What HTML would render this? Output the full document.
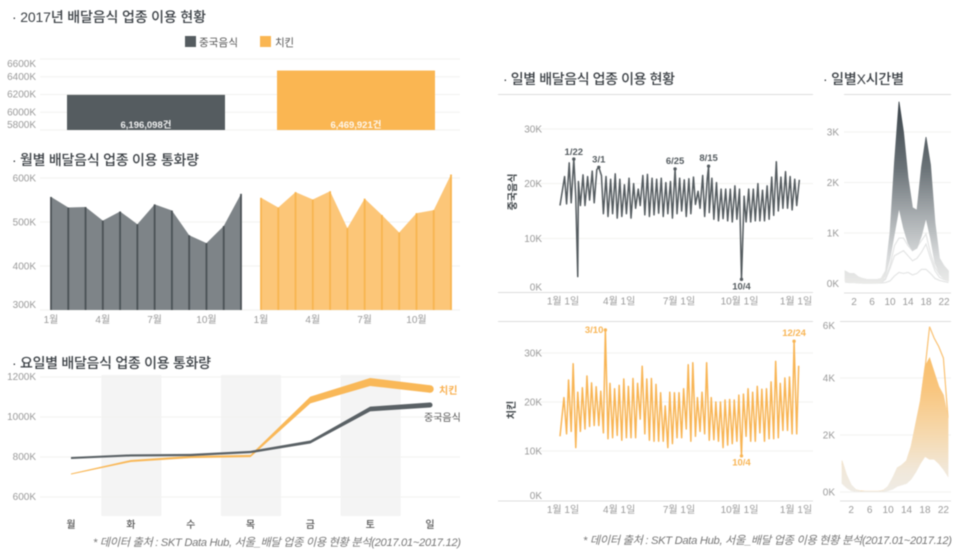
<!DOCTYPE html>
<html lang="ko">
<head>
<meta charset="utf-8">
<title>2017년 배달음식 업종 이용 현황</title>
<style>
html,body{margin:0;padding:0;background:#fff;width:966px;height:558px;overflow:hidden}
svg{display:block;filter:blur(.5px)}
text{font-family:"Liberation Sans","Noto Sans CJK KR",sans-serif}
.title{font-size:14px;font-weight:500;fill:#3b4045}
.tick{font-size:10px;fill:#9a9a9a}
.foot{font-size:11.2px;font-style:italic;fill:#777}
</style>
</head>
<body>
<svg id="chart" xmlns="http://www.w3.org/2000/svg" width="966" height="558" viewBox="0 0 966 558">
<defs>
<linearGradient id="gradDark" gradientUnits="userSpaceOnUse" x1="0" y1="105" x2="0" y2="284">
<stop offset="0" stop-color="#3d464c"/><stop offset=".35" stop-color="#6a7277"/><stop offset=".62" stop-color="#a9aeb1"/><stop offset=".85" stop-color="#d8dadb"/><stop offset="1" stop-color="#ebebe9"/>
</linearGradient>
<linearGradient id="gradOrange" gradientUnits="userSpaceOnUse" x1="0" y1="345" x2="0" y2="493">
<stop offset="0" stop-color="#f9bc63"/><stop offset=".3" stop-color="#f9c67f"/><stop offset=".6" stop-color="#f6d9ae"/><stop offset=".85" stop-color="#f1e8da"/><stop offset="1" stop-color="#efece6"/>
</linearGradient>
</defs>
<text class="title" x="12" y="22" textLength="194">· 2017년 배달음식 업종 이용 현황</text>
<text class="title" x="12" y="165" textLength="187">· 월별 배달음식 업종 이용 통화량</text>
<text class="title" x="12" y="368" textLength="199">· 요일별 배달음식 업종 이용 통화량</text>
<text class="title" x="503" y="84" textLength="172">· 일별 배달음식 업종 이용 현황</text>
<text class="title" x="823" y="84" textLength="81">· 일별X시간별</text>
<rect x="185" y="36" width="11" height="11" fill="#555c60"/>
<text x="199" y="46" font-size="10.5" fill="#555" textLength="39">중국음식</text>
<rect x="260" y="36" width="11" height="11" fill="#fab652"/>
<text x="275" y="46" font-size="10.5" fill="#555" textLength="19">치킨</text>
<line x1="498" x2="813" y1="94.5" y2="94.5" stroke="#ddd"/>
<line x1="844" x2="951" y1="94.5" y2="94.5" stroke="#ddd"/>
<line x1="498" x2="813" y1="321.5" y2="321.5" stroke="#ddd"/>
<line x1="840" x2="951" y1="321.5" y2="321.5" stroke="#ddd"/>
<text transform="translate(516,192) rotate(-90)" text-anchor="middle" font-size="10" font-weight="700" fill="#3f4549">중국음식</text>
<text transform="translate(515,410) rotate(-90)" text-anchor="middle" font-size="10" font-weight="700" fill="#3f4549">치킨</text>
<text class="foot" x="93" y="546" textLength="368">* 데이터 출처 : SKT Data Hub, 서울_배달 업종 이용 현황 분석(2017.01~2017.12)</text>
<text class="foot" x="583" y="544" textLength="369">* 데이터 출처 : SKT Data Hub, 서울_배달 업종 이용 현황 분석(2017.01~2017.12)</text>
</svg>
<script>
// ---- yearly totals ----
const yearCategories = ['중국음식', '치킨'];
const yearValues = [6196098, 6469921];
const yearTicks = [5800, 6000, 6200, 6400, 6600];
// ---- monthly ----
const monthLabels = ['1월', '', '', '4월', '', '', '7월', '', '', '10월', '', ''];
const monthChinese = [557, 533, 534, 503, 524, 495, 540, 526, 470, 452, 491, 564];
const monthChicken = [555, 533, 568, 551, 570, 486, 553, 516, 476, 520, 527, 608];
const monthTicks = [300, 400, 500, 600];
// ---- weekday ----
const weekdays = ['월', '화', '수', '목', '금', '토', '일'];
const weekdayChinese = [795, 808, 810, 825, 875, 1040, 1060];
const weekdayChicken = [715, 780, 800, 805, 1085, 1175, 1140];
const weekdayTicks = [600, 800, 1000, 1200];
// ---- daily (K calls) : weekly peak and trough readings, plus single-day spikes [day-of-year, value] ----
const dailyChinesePeaks = [21.3,23.8,24.5,20.4,21.6,21.3,22.3,22.6,21.5,21.3,20.8,21.8,20.8,19.8,21,20,19,21.5,21.7,21,20.8,21,20.2,20.4,22.7,21,20.7,20.9,21.2,18.6,21.5,21,21,20.2,19,19,19,19.6,19,17.7,19,19,20,18.8,19.6,21.2,24,21.2,22.2,21.3,20.8,20.7];
const dailyChineseTroughs = [16,16.3,16.5,17.5,16,16,17,16.5,15.5,14.5,14,14.5,13.7,14,14.5,13.7,15.5,16,14.3,14,14.3,14.6,14,14.5,13.7,14.5,15,14,14.5,16.2,15.5,14,14.7,13.5,13.2,13.6,13.2,13,13.5,12.8,13,13,13.2,13.2,13.2,13.5,14.2,15,15.5,15.5,15.2,16];
const dailyChineseSpikes = [[27, 3], [59, 23], [226, 23.2], [276, 2.5]];
const dailyChickenPeaks = [20.9,24.5,27.8,22,22.9,25.3,23.9,23.1,22.2,34.7,23.8,22.7,23.4,24.7,23.2,24.8,23.8,27.3,24.7,24.8,23.6,21.9,19.2,22,21.9,21.9,22.7,27.6,28,20.9,22,28,20.9,20,20,20.4,20.5,20.4,21.4,21.6,22.7,22,23.2,22.6,22.7,24.1,28.3,23.8,24.9,25.1,32.4,27.4];
const dailyChickenTroughs = [13,13.5,14,10.7,14,14.5,15,15.2,15.2,13.7,12.5,12.7,13.2,12.2,12.7,12.7,12.7,16.5,13.5,12.2,12,12,12,10.7,11.5,12.7,12.7,14.5,12,13,14,13.5,12.2,12.3,12,10.7,11.2,11.5,12,12.5,13,12,12,13.7,12,12.5,12.5,12.7,14.2,14.2,13.5,13.5];
const dailyChickenSpikes = [[276, 9]];
const dailyChineseTicks = [0, 10, 20, 30];
const dailyChickenTicks = [0, 10, 20, 30];
const dateTickDays = [0, 90, 181, 273, 365];
const dateTickLabels = ['1월 1일', '4월 1일', '7월 1일', '10월 1일', '1월 1일'];
const chineseNotes = [['1/22', 21], ['3/1', 59], ['6/25', 175], ['8/15', 226], ['10/4', 276]];
const chickenNotes = [['3/10', 69], ['12/24', 356], ['10/4', 276]];
// ---- hourly (K calls) ----
const hours = [0,1,2,3,4,5,6,7,8,9,10,11,12,13,14,15,16,17,18,19,20,21,22,23];
const hourTickLabels = [2, 6, 10, 14, 18, 22];
const hourChineseUpper = [.25,.2,.2,.13,.1,.08,.08,.08,.1,.25,1.0,2.4,3.6,3.0,2.1,1.5,1.45,2.3,2.9,2.35,1.2,.5,.35,.25];
const hourChineseLower = [.05,.03,.02,.01,.01,.01,.01,.01,.02,.15,.5,1.0,1.5,1.1,.8,.65,.7,.95,1.3,.9,.4,.2,.1,.05];
const hourChineseHolidayA = [.08,.06,.04,.02,.01,.01,.01,.02,.03,.1,.35,.75,.9,.9,.75,.65,.72,.85,.98,.6,.32,.18,.1,.06];
const hourChineseHolidayB = [.06,.04,.03,.02,.01,.01,.01,.01,.02,.08,.3,.55,.6,.65,.55,.45,.5,.62,.78,.5,.25,.12,.08,.05];
const hourChineseHolidayC = [.03,.02,.02,.01,.01,.01,.01,.01,.01,.02,.05,.15,.22,.2,.22,.17,.2,.28,.28,.2,.1,.06,.04,.02];
const hourChineseTicks = [0, 1, 2, 3];
const hourChickenUpper = [1.1,.6,.25,.08,.03,.02,.02,.02,.02,.05,.2,.5,.85,.95,1.1,1.6,2.4,3.2,4.4,4.7,4.2,3.7,3.4,2.6];
const hourChickenLower = [.3,.15,.05,.02,.01,.01,.01,.01,.01,.01,.05,.1,.2,.25,.3,.45,.7,1.0,1.25,1.15,1.15,1.0,.8,.55];
const hourChickenPeakDay = [1.0,.55,.22,.07,.03,.02,.02,.02,.02,.05,.18,.45,.8,.9,1.05,1.55,2.3,3.1,4.3,5.8,5.4,5.1,4.7,2.6];
const hourChickenTicks = [0, 2, 4, 6];

const svg = document.getElementById('chart');
const NS = 'http://www.w3.org/2000/svg';
function make(tag, attrs, txt) {
  const e = document.createElementNS(NS, tag);
  for (const k in attrs) e.setAttribute(k, attrs[k]);
  if (txt !== undefined) e.textContent = txt;
  svg.appendChild(e);
  return e;
}
function linear(d0, d1, r0, r1) { return v => r0 + (v - d0) * (r1 - r0) / (d1 - d0); }
function fmtK(v) { return v + 'K'; }
function grid(x1, x2, y, name) {
  const g = make('line', {x1: x1, x2: x2, y1: y, y2: y, stroke: '#f2f2f0', 'stroke-width': 1});
  
  
}
function tickText(x, y, s, anchor, name, cls) {
  const t = make('text', {x: x, y: y, 'text-anchor': anchor, class: cls || 'tick'}, s);
  
  
  return t;
}

// ---- yearly bars ----
const yYear = linear(5800000, 6600000, 130, 59);
const yearBarX = linear(0, 1, 67, 277);
const yearColors = ['#555c60', '#fab652'];
yearTicks.forEach(v => {
  grid(40, 460, yYear(v * 1000), 'year-gridline');
  const ly = v === 5800 ? 128 : v === 6600 ? 67 : yYear(v * 1000) + 3;
  tickText(36, ly, fmtK(v), 'end', 'year-y-tick');
});
yearValues.forEach((v, i) => {
  const b = make('rect', {x: yearBarX(i), y: yYear(v), width: 158, height: 130 - yYear(v), fill: yearColors[i]});
  
  
  const t = make('text', {x: yearBarX(i) + 79, y: 128, 'text-anchor': 'middle', 'font-size': 9.5, 'font-weight': 700, fill: '#fff', opacity: .9}, v.toLocaleString('en-US') + '건');
  
  
});

// ---- monthly areas ----
const yMonth = linear(300, 600, 310, 178);
monthTicks.forEach(v => {
  grid(40, 460, yMonth(v), 'month-gridline');
  tickText(36, v === 300 ? 308 : yMonth(v) + 3.5, fmtK(v), 'end', 'month-y-tick');
});
function monthArea(vals, x0, fill, stroke, name) {
  const x = linear(0, vals.length - 1, x0, x0 + 190);
  const pts = vals.map((v, i) => x(i) + ',' + yMonth(v)).join(' ');
  const a = make('polygon', {points: x(0) + ',310 ' + pts + ' ' + x(vals.length - 1) + ',310', fill: fill});
  
  
  vals.forEach((v, i) => {
    const l = make('line', {x1: x(i), x2: x(i), y1: yMonth(v), y2: 310, stroke: stroke, 'stroke-width': 1.8});
    
    
    if (monthLabels[i]) tickText(x(i), 323, monthLabels[i], 'middle', name + '-x-tick');
  });
}
monthArea(monthChinese, 51, '#7e8488', '#4b5256', 'month-chinese');
monthArea(monthChicken, 261, '#fcc678', '#f8b550', 'month-chicken');

// ---- weekday ribbons ----
const yDay = linear(600, 1200, 497, 377);
const xDay = linear(0, 6, 71, 430);
[1, 3, 5].forEach(i => {
  const band = make('rect', {x: xDay(i) - 29.5, y: 375, width: 60, height: 141, fill: '#f4f4f4'});
  
  
});
weekdayTicks.forEach(v => {
  grid(40, 460, yDay(v), 'weekday-gridline');
  tickText(36, yDay(v) + 3, fmtK(v), 'end', 'weekday-y-tick');
});
weekdays.forEach((d, i) => {
  const t = tickText(xDay(i), 528, d, 'middle', 'weekday-x-tick');
  t.setAttribute('font-size', '11');
  t.setAttribute('style', 'fill:#555;font-weight:500');
});
function ribbon(vals, color, wMin, wMax, name) {
  const lo = Math.min.apply(null, vals), hi = Math.max.apply(null, vals);
  const w = v => wMin + (v - lo) * (wMax - wMin) / (hi - lo);
  const top = vals.map((v, i) => xDay(i) + ',' + (yDay(v) - w(v) / 2));
  const bot = vals.map((v, i) => xDay(i) + ',' + (yDay(v) + w(v) / 2)).reverse();
  const p = make('polygon', {points: top.concat(bot).join(' '), fill: color});
  
  
  const last = vals[vals.length - 1];
  const c = make('circle', {cx: xDay(vals.length - 1), cy: yDay(last), r: w(last) / 2, fill: color});
  
  
}
ribbon(weekdayChicken, '#f9b858', 1, 8, 'weekday-line-chicken');
ribbon(weekdayChinese, '#5a6165', 2, 5, 'weekday-line-chinese');
const wl1 = make('text', {x: 439, y: 394, 'font-size': 10, 'font-weight': 700, fill: '#f9b050'}, '치킨');


const wl2 = make('text', {x: 424, y: 421, 'font-size': 10, fill: '#555'}, '중국음식');



// ---- daily lines ----
const xDate = linear(0, 365, 560, 800);
function dailyPoints(peaks, troughs, spikes, peakShift) {
  const pts = [[0, troughs[0]]];
  const spikeDays = spikes.map(s => s[0]);
  peaks.forEach((v, i) => {
    const pd = 7 * (i + 1) - peakShift, td = 7 * (i + 1) + 3;
    if (spikeDays.indexOf(pd) < 0) pts.push([pd, v]);
    if (troughs[i + 1] !== undefined && spikeDays.indexOf(td) < 0) pts.push([td, troughs[i + 1]]);
  });
  spikes.forEach(d => pts.push(d));
  return pts.sort((a, b) => a[0] - b[0]).filter(p => p[0] <= 365);
}
function dailyChart(cfg) {
  const y = cfg.y;
  cfg.ticks.forEach(v => {
    if (v > 0) grid(535, 813, y(v), cfg.name + '-gridline');
    tickText(542, v === 0 ? cfg.zeroLabel : y(v) + 3.5, fmtK(v), 'end', cfg.name + '-y-tick');
  });
  const base = make('line', {x1: 498, x2: 813, y1: cfg.base, y2: cfg.base, stroke: '#ddd'});
  
  
  dateTickDays.forEach((d, i) => {
    const lx = Math.max(563, Math.min(796, xDate(d)));
    tickText(lx, cfg.base + 12, dateTickLabels[i], 'middle', cfg.name + '-x-tick');
  });
  const pts = dailyPoints(cfg.peaks, cfg.troughs, cfg.spikes, cfg.shift);
  const line = make('polyline', {points: pts.map(p => xDate(p[0]) + ',' + y(p[1])).join(' '), fill: 'none', stroke: cfg.color, 'stroke-width': 1.5, 'stroke-linejoin': 'round'});
  
  
  cfg.notes.forEach((n, i) => {
    let best = pts[0];
    pts.forEach(p => { if (Math.abs(p[0] - n[1]) < Math.abs(best[0] - n[1])) best = p; });
    const px = xDate(best[0]), py = y(best[1]);
    const dot = make('circle', {cx: px, cy: py, r: 1.7, fill: cfg.color});
    
    
    const off = cfg.offsets[i];
    const t = make('text', {x: px + off[0], y: py + off[1], 'text-anchor': off[2] || 'middle', 'font-size': 9.5, 'font-weight': 700, fill: cfg.color}, n[0]);
    
    
  });
}
dailyChart({name: 'daily-chinese', y: linear(0, 30, 293, 129), base: 292.5, zeroLabel: 290.5, ticks: dailyChineseTicks,
  peaks: dailyChinesePeaks, troughs: dailyChineseTroughs, spikes: dailyChineseSpikes, shift: 0, color: '#555c60', notes: chineseNotes,
  offsets: [[0, -4], [0, -5], [0, -5], [0, -5], [0, 10]]});
dailyChart({name: 'daily-chicken', y: linear(0, 30, 500, 353), base: 501, zeroLabel: 499, ticks: dailyChickenTicks,
  peaks: dailyChickenPeaks, troughs: dailyChickenTroughs, spikes: dailyChickenSpikes, shift: 1, color: '#f8b555', notes: chickenNotes,
  offsets: [[-2, 3, 'end'], [0, -5], [0, 9.5]]});

// ---- hourly ----
function hourChart(cfg) {
  const y = cfg.y, x = cfg.x;
  cfg.ticks.forEach(v => {
    if ((v > 0 || cfg.zeroGrid) && y(v) > cfg.top) grid(cfg.left, 951, y(v), cfg.name + '-gridline');
    tickText(cfg.labelX, Math.max(y(v) + 3.5, cfg.top + 8), fmtK(v), 'end', cfg.name + '-y-tick');
  });
  cfg.extra.forEach((s, i) => {
    const l = make('polyline', {points: hours.map(h => x(h) + ',' + y(s[h])).join(' '), fill: 'none', stroke: cfg.extraColor, 'stroke-width': 1.2});
    
    
  });
  const top = hours.map(h => x(h) + ',' + y(cfg.upper[h]));
  const bot = hours.map(h => x(h) + ',' + y(cfg.lower[h])).reverse();
  const band = make('polygon', {points: top.concat(bot).join(' '), fill: cfg.fill, stroke: cfg.fill, 'stroke-width': .8});
  
  
  const base = make('line', {x1: cfg.left, x2: 951, y1: cfg.base, y2: cfg.base, stroke: '#ddd'});
  
  
  hourTickLabels.forEach(h => tickText(x(h), cfg.base + 12, String(h), 'middle', cfg.name + '-x-tick'));
}
hourChart({name: 'hourly-chinese', x: linear(0, 23, 845, 948.5), y: linear(0, 3, 283.5, 132), base: 293, top: 94, left: 844, labelX: 839, ticks: hourChineseTicks, zeroGrid: false,
  upper: hourChineseUpper, lower: hourChineseLower, fill: 'url(#gradDark)',
  extra: [hourChineseHolidayA, hourChineseHolidayB, hourChineseHolidayC], extraColor: '#e4e5e5'});
hourChart({name: 'hourly-chicken', x: linear(0, 23, 842, 948), y: linear(0, 4, 492, 378), base: 501, top: 321, left: 840, labelX: 835, ticks: hourChickenTicks, zeroGrid: true,
  upper: hourChickenUpper, lower: hourChickenLower, fill: 'url(#gradOrange)',
  extra: [hourChickenPeakDay], extraColor: '#f9c172'});
</script>
</body>
</html>
